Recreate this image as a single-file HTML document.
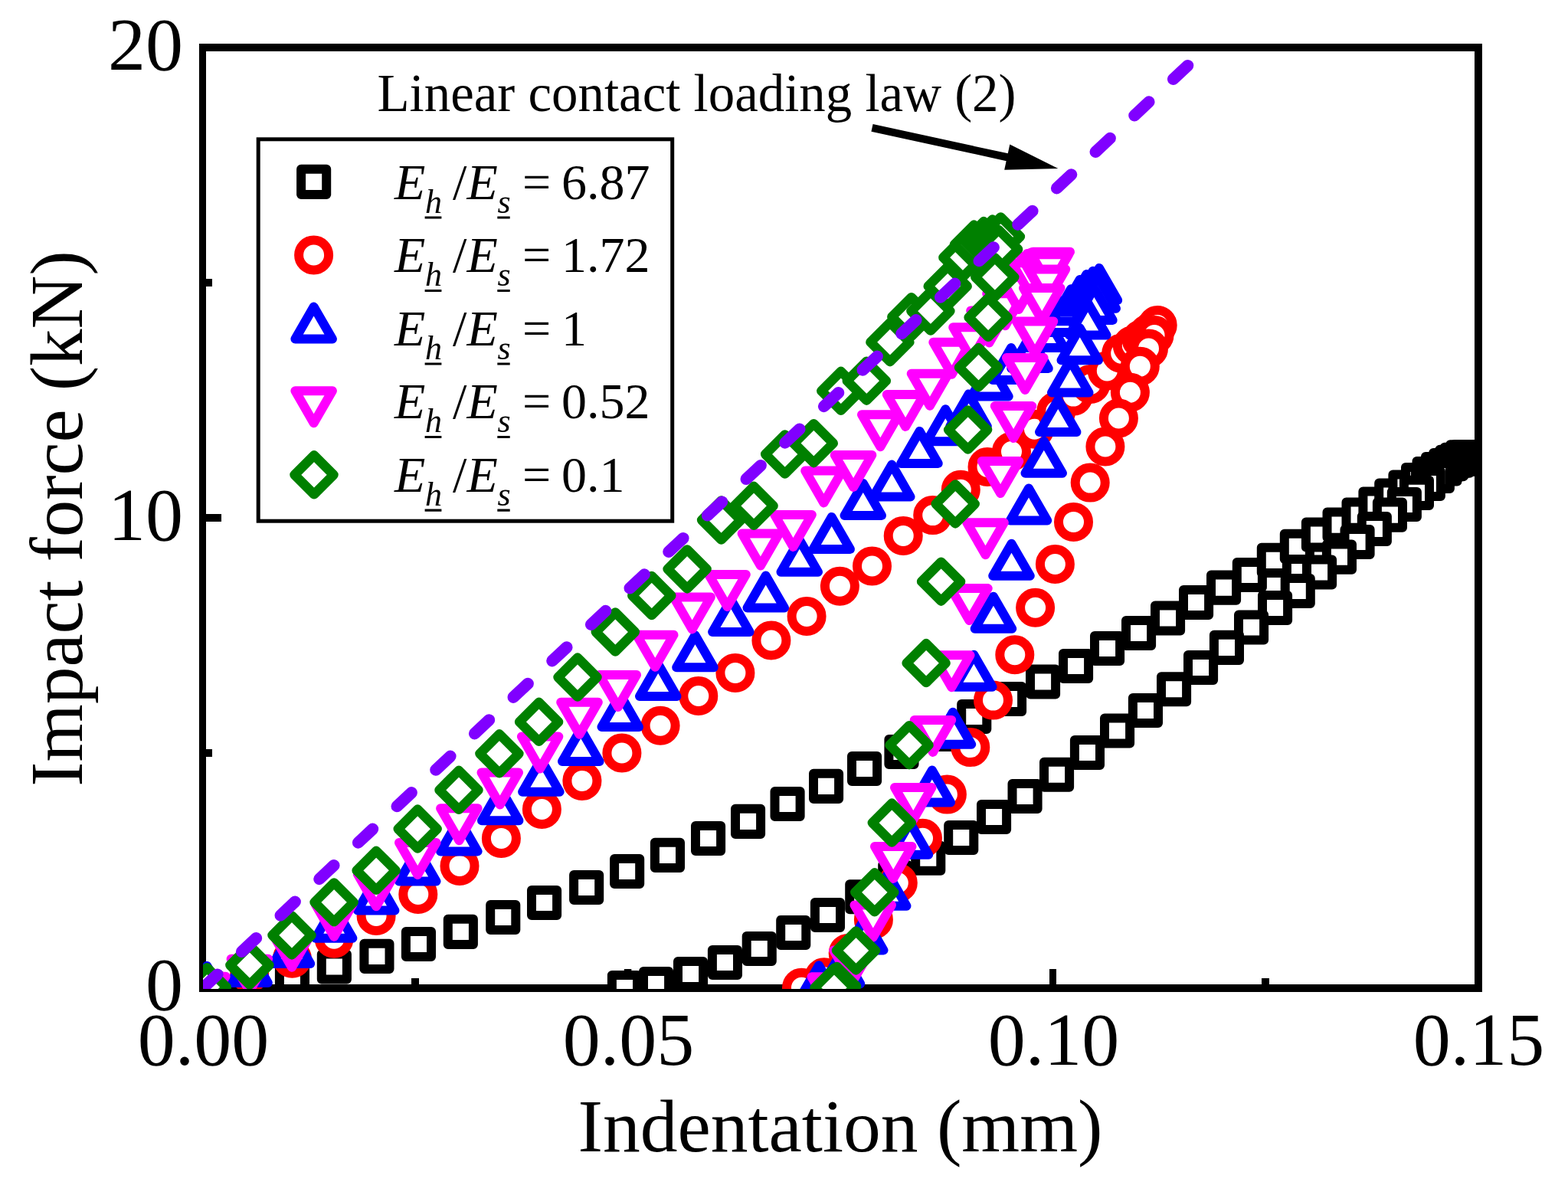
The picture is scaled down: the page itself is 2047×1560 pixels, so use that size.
<!DOCTYPE html>
<html lang="en"><head><meta charset="utf-8"><title>Impact force vs indentation</title>
<style>
html,body{margin:0;padding:0;background:#fff;}
body{width:2047px;height:1560px;overflow:hidden;}
svg{display:block;}
text{font-family:"Liberation Serif",serif;fill:#000;}
.tk{font-size:98px;}
.ax{font-size:97.5px;}
.lg{font-size:66px;}
.lg .i{font-style:italic;}
.lg{white-space:pre;}
.lg .s{font-style:italic;font-size:44px;}
.an{font-size:68.9px;}
.m{fill:#fff;stroke-width:12.0;stroke-linejoin:round;}
</style></head><body>
<svg width="2047" height="1560" viewBox="0 0 2047 1560">
<rect x="0" y="0" width="2047" height="1560" fill="#fff"/>
<defs><clipPath id="pc"><rect x="265" y="61" width="1665" height="1230"/></clipPath></defs>

<path fill="#000" fill-rule="evenodd" d="M259.94 56.98H1934.94V1294.97H259.94ZM269 66.95V1285H1924.97V66.95Z"/>
<path d="M268.50 671.00H289.00V681.00H268.50ZM268.50 363.90H277.00V373.90H268.50ZM268.50 978.10H277.00V988.10H268.50ZM814.85 1265.00H824.35V1285.50H814.85ZM1370.00 1265.00H1379.00V1285.50H1370.00ZM537.00 1277.00H547.00V1285.50H537.00ZM1092.00 1277.00H1102.00V1285.50H1092.00ZM1647.00 1277.00H1657.00V1285.50H1647.00Z" fill="#000"/>
<g clip-path="url(#pc)">
<g class="m" stroke="#000000">
<rect x="253.8" y="1272.8" width="33.1" height="33.1"/><rect x="309.4" y="1266.5" width="33.1" height="33.1"/><rect x="364.9" y="1257.9" width="33.1" height="33.1"/><rect x="419.8" y="1245.5" width="33.1" height="33.1"/><rect x="475.4" y="1231.8" width="33.1" height="33.1"/><rect x="529.9" y="1216.0" width="33.1" height="33.1"/><rect x="584.8" y="1199.8" width="33.1" height="33.1"/><rect x="640.2" y="1181.0" width="33.1" height="33.1"/><rect x="694.0" y="1162.0" width="33.1" height="33.1"/><rect x="749.1" y="1141.9" width="33.1" height="33.1"/><rect x="802.1" y="1120.9" width="33.1" height="33.1"/><rect x="854.9" y="1099.8" width="33.1" height="33.1"/><rect x="908.0" y="1077.9" width="33.1" height="33.1"/><rect x="960.0" y="1055.8" width="33.1" height="33.1"/><rect x="1011.5" y="1032.9" width="33.1" height="33.1"/><rect x="1062.0" y="1009.8" width="33.1" height="33.1"/><rect x="1112.0" y="986.9" width="33.1" height="33.1"/><rect x="1160.4" y="965.0" width="33.1" height="33.1"/><rect x="1208.2" y="941.9" width="33.1" height="33.1"/><rect x="1255.2" y="918.9" width="33.1" height="33.1"/><rect x="1301.0" y="896.0" width="33.1" height="33.1"/><rect x="1345.0" y="873.5" width="33.1" height="33.1"/><rect x="1388.0" y="853.0" width="33.1" height="33.1"/><rect x="1429.0" y="829.9" width="33.1" height="33.1"/><rect x="1470.0" y="810.0" width="33.1" height="33.1"/><rect x="1508.0" y="790.4" width="33.1" height="33.1"/><rect x="1545.0" y="769.9" width="33.1" height="33.1"/><rect x="1581.0" y="750.6" width="33.1" height="33.1"/><rect x="1614.8" y="733.9" width="33.1" height="33.1"/><rect x="1646.8" y="714.8" width="33.1" height="33.1"/><rect x="1676.8" y="696.8" width="33.1" height="33.1"/><rect x="1704.9" y="681.5" width="33.1" height="33.1"/><rect x="1732.5" y="668.6" width="33.1" height="33.1"/><rect x="1757.5" y="655.6" width="33.1" height="33.1"/><rect x="1779.4" y="641.6" width="33.1" height="33.1"/><rect x="1800.2" y="630.5" width="33.1" height="33.1"/><rect x="1818.4" y="619.6" width="33.1" height="33.1"/><rect x="1835.0" y="609.9" width="33.1" height="33.1"/><rect x="1849.5" y="602.1" width="33.1" height="33.1"/><rect x="1861.0" y="595.9" width="33.1" height="33.1"/><rect x="1871.2" y="591.1" width="33.1" height="33.1"/><rect x="1879.5" y="586.8" width="33.1" height="33.1"/><rect x="1885.7" y="584.6" width="33.1" height="33.1"/><rect x="1893.2" y="580.2" width="33.1" height="33.1"/><rect x="1899.0" y="580.1" width="33.1" height="33.1"/><rect x="1903.5" y="580.0" width="33.1" height="33.1"/><rect x="1907.0" y="580.0" width="33.1" height="33.1"/><rect x="1909.5" y="580.0" width="33.1" height="33.1"/><rect x="1911.0" y="580.0" width="33.1" height="33.1"/><rect x="1910.5" y="580.5" width="33.1" height="33.1"/><rect x="1908.0" y="581.0" width="33.1" height="33.1"/><rect x="1904.0" y="581.5" width="33.1" height="33.1"/><rect x="1898.5" y="582.0" width="33.1" height="33.1"/><rect x="1892.5" y="582.7" width="33.1" height="33.1"/><rect x="1885.8" y="583.8" width="33.1" height="33.1"/><rect x="1877.5" y="589.2" width="33.1" height="33.1"/><rect x="1869.4" y="595.4" width="33.1" height="33.1"/><rect x="1859.8" y="605.0" width="33.1" height="33.1"/><rect x="1847.8" y="614.9" width="33.1" height="33.1"/><rect x="1832.9" y="626.8" width="33.1" height="33.1"/><rect x="1816.8" y="641.9" width="33.1" height="33.1"/><rect x="1797.9" y="655.6" width="33.1" height="33.1"/><rect x="1777.8" y="674.0" width="33.1" height="33.1"/><rect x="1755.5" y="690.9" width="33.1" height="33.1"/><rect x="1731.9" y="710.6" width="33.1" height="33.1"/><rect x="1706.0" y="730.4" width="33.1" height="33.1"/><rect x="1677.7" y="754.9" width="33.1" height="33.1"/><rect x="1648.0" y="777.0" width="33.1" height="33.1"/><rect x="1617.0" y="802.4" width="33.1" height="33.1"/><rect x="1584.9" y="828.8" width="33.1" height="33.1"/><rect x="1551.0" y="855.0" width="33.1" height="33.1"/><rect x="1516.0" y="883.2" width="33.1" height="33.1"/><rect x="1478.9" y="910.9" width="33.1" height="33.1"/><rect x="1442.0" y="937.5" width="33.1" height="33.1"/><rect x="1402.9" y="966.0" width="33.1" height="33.1"/><rect x="1363.0" y="994.7" width="33.1" height="33.1"/><rect x="1321.5" y="1023.0" width="33.1" height="33.1"/><rect x="1281.0" y="1050.0" width="33.1" height="33.1"/><rect x="1238.2" y="1077.0" width="33.1" height="33.1"/><rect x="1195.2" y="1103.7" width="33.1" height="33.1"/><rect x="1152.2" y="1129.0" width="33.1" height="33.1"/><rect x="1109.2" y="1154.2" width="33.1" height="33.1"/><rect x="1063.9" y="1178.0" width="33.1" height="33.1"/><rect x="1019.2" y="1200.9" width="33.1" height="33.1"/><rect x="974.7" y="1222.0" width="33.1" height="33.1"/><rect x="929.9" y="1240.0" width="33.1" height="33.1"/><rect x="885.0" y="1254.9" width="33.1" height="33.1"/><rect x="840.0" y="1268.0" width="33.1" height="33.1"/><rect x="798.9" y="1272.9" width="33.1" height="33.1"/>
</g>
<g class="m" stroke="#ff0000">
<circle cx="270.3" cy="1289.0" r="19.5"/><circle cx="325.7" cy="1270.5" r="19.5"/><circle cx="381.4" cy="1251.2" r="19.5"/><circle cx="436.1" cy="1225.2" r="19.5"/><circle cx="491.1" cy="1195.5" r="19.5"/><circle cx="545.8" cy="1167.4" r="19.5"/><circle cx="600.0" cy="1130.4" r="19.5"/><circle cx="654.4" cy="1094.4" r="19.5"/><circle cx="707.4" cy="1056.5" r="19.5"/><circle cx="759.9" cy="1019.4" r="19.5"/><circle cx="811.9" cy="983.0" r="19.5"/><circle cx="862.1" cy="947.2" r="19.5"/><circle cx="911.8" cy="908.5" r="19.5"/><circle cx="959.9" cy="878.4" r="19.5"/><circle cx="1006.9" cy="836.0" r="19.5"/><circle cx="1053.1" cy="804.5" r="19.5"/><circle cx="1096.4" cy="765.2" r="19.5"/><circle cx="1138.5" cy="739.0" r="19.5"/><circle cx="1179.2" cy="699.4" r="19.5"/><circle cx="1217.7" cy="672.6" r="19.5"/><circle cx="1254.3" cy="639.3" r="19.5"/><circle cx="1289.0" cy="609.5" r="19.5"/><circle cx="1320.5" cy="589.5" r="19.5"/><circle cx="1350.5" cy="560.2" r="19.5"/><circle cx="1378.8" cy="536.7" r="19.5"/><circle cx="1401.3" cy="517.1" r="19.5"/><circle cx="1423.8" cy="501.5" r="19.5"/><circle cx="1445.3" cy="484.0" r="19.5"/><circle cx="1463.7" cy="461.3" r="19.5"/><circle cx="1478.3" cy="451.1" r="19.5"/><circle cx="1490.0" cy="443.0" r="19.5"/><circle cx="1499.0" cy="436.0" r="19.5"/><circle cx="1505.5" cy="431.0" r="19.5"/><circle cx="1509.5" cy="427.0" r="19.5"/><circle cx="1511.2" cy="424.6" r="19.5"/><circle cx="1507.0" cy="437.5" r="19.5"/><circle cx="1499.5" cy="455.0" r="19.5"/><circle cx="1488.3" cy="478.3" r="19.5"/><circle cx="1475.4" cy="512.2" r="19.5"/><circle cx="1460.4" cy="546.0" r="19.5"/><circle cx="1442.9" cy="583.0" r="19.5"/><circle cx="1423.2" cy="630.1" r="19.5"/><circle cx="1401.5" cy="681.4" r="19.5"/><circle cx="1377.4" cy="736.5" r="19.5"/><circle cx="1351.6" cy="793.2" r="19.5"/><circle cx="1324.8" cy="854.8" r="19.5"/><circle cx="1296.5" cy="914.1" r="19.5"/><circle cx="1266.8" cy="975.6" r="19.5"/><circle cx="1236.4" cy="1037.1" r="19.5"/><circle cx="1204.5" cy="1094.2" r="19.5"/><circle cx="1172.3" cy="1152.5" r="19.5"/><circle cx="1140.4" cy="1200.4" r="19.5"/><circle cx="1107.2" cy="1244.4" r="19.5"/><circle cx="1075.9" cy="1275.7" r="19.5"/><circle cx="1046.5" cy="1289.3" r="19.5"/>
</g>
<g class="m" stroke="#0000ff">
<path d="M270.3 1260.9L294.6 1302.9L246.1 1302.9Z"/><path d="M325.5 1241.0L349.8 1283.0L301.2 1283.0Z"/><path d="M381.0 1216.0L405.2 1258.0L356.8 1258.0Z"/><path d="M436.1 1182.8L460.4 1224.8L411.9 1224.8Z"/><path d="M491.1 1146.6L515.4 1188.6L466.9 1188.6Z"/><path d="M545.2 1108.5L569.5 1150.5L521.0 1150.5Z"/><path d="M599.4 1069.4L623.6 1111.4L575.1 1111.4Z"/><path d="M653.2 1029.3L677.5 1071.3L629.0 1071.3Z"/><path d="M706.4 991.7L730.6 1033.7L682.1 1033.7Z"/><path d="M758.3 952.1L782.5 994.1L734.0 994.1Z"/><path d="M809.7 907.1L834.0 949.1L785.5 949.1Z"/><path d="M859.2 867.0L883.5 909.0L835.0 909.0Z"/><path d="M907.5 829.3L931.8 871.3L883.2 871.3Z"/><path d="M954.4 783.0L978.6 825.0L930.1 825.0Z"/><path d="M999.7 751.5L1024.0 793.5L975.5 793.5Z"/><path d="M1043.7 704.8L1068.0 746.8L1019.5 746.8Z"/><path d="M1085.7 674.9L1110.0 716.9L1061.5 716.9Z"/><path d="M1126.8 630.9L1151.0 672.9L1102.5 672.9Z"/><path d="M1164.3 606.6L1188.5 648.6L1140.0 648.6Z"/><path d="M1200.5 562.9L1224.8 604.9L1176.2 604.9Z"/><path d="M1234.3 534.3L1258.5 576.3L1210.0 576.3Z"/><path d="M1264.6 514.4L1288.8 556.4L1240.3 556.4Z"/><path d="M1292.4 475.5L1316.7 517.5L1268.2 517.5Z"/><path d="M1320.0 454.0L1344.2 496.0L1295.8 496.0Z"/><path d="M1344.5 438.9L1368.8 480.9L1320.2 480.9Z"/><path d="M1365.0 412.0L1389.2 454.0L1340.8 454.0Z"/><path d="M1383.0 392.0L1407.2 434.0L1358.8 434.0Z"/><path d="M1398.1 377.2L1422.3 419.2L1373.8 419.2Z"/><path d="M1409.6 365.1L1433.8 407.1L1385.3 407.1Z"/><path d="M1418.4 358.1L1442.7 400.1L1394.2 400.1Z"/><path d="M1426.7 353.7L1451.0 395.7L1402.5 395.7Z"/><path d="M1435.0 349.9L1459.2 391.9L1410.8 391.9Z"/><path d="M1432.8 360.7L1457.0 402.7L1408.5 402.7Z"/><path d="M1428.4 375.9L1452.7 417.9L1404.2 417.9Z"/><path d="M1420.2 395.5L1444.5 437.5L1396.0 437.5Z"/><path d="M1409.7 428.3L1434.0 470.3L1385.5 470.3Z"/><path d="M1397.2 470.6L1421.5 512.6L1373.0 512.6Z"/><path d="M1381.3 522.0L1405.5 564.0L1357.0 564.0Z"/><path d="M1362.8 575.8L1387.0 617.8L1338.5 617.8Z"/><path d="M1343.0 637.5L1367.2 679.5L1318.8 679.5Z"/><path d="M1320.5 709.7L1344.8 751.7L1296.2 751.7Z"/><path d="M1296.9 778.7L1321.2 820.7L1272.7 820.7Z"/><path d="M1271.3 854.8L1295.5 896.8L1247.0 896.8Z"/><path d="M1243.9 929.7L1268.2 971.7L1219.7 971.7Z"/><path d="M1216.8 1005.5L1241.0 1047.5L1192.5 1047.5Z"/><path d="M1187.9 1073.7L1212.2 1115.7L1163.7 1115.7Z"/><path d="M1159.2 1140.7L1183.5 1182.7L1135.0 1182.7Z"/><path d="M1129.2 1198.4L1153.5 1240.4L1105.0 1240.4Z"/><path d="M1098.9 1242.2L1123.2 1284.2L1074.7 1284.2Z"/><path d="M1069.0 1260.2L1093.2 1302.2L1044.8 1302.2Z"/>
</g>
<g class="m" stroke="#ff00ff">
<path d="M270.3 1316.8L294.6 1274.8L246.1 1274.8Z"/><path d="M325.9 1293.8L350.1 1251.8L301.6 1251.8Z"/><path d="M381.0 1262.8L405.2 1220.8L356.8 1220.8Z"/><path d="M436.1 1222.7L460.4 1180.7L411.9 1180.7Z"/><path d="M491.1 1183.2L515.4 1141.2L466.9 1141.2Z"/><path d="M545.2 1142.0L569.5 1100.0L521.0 1100.0Z"/><path d="M599.4 1097.2L623.6 1055.2L575.1 1055.2Z"/><path d="M652.7 1050.5L677.0 1008.5L628.5 1008.5Z"/><path d="M705.1 1003.6L729.4 961.6L680.9 961.6Z"/><path d="M756.5 958.8L780.8 916.8L732.2 916.8Z"/><path d="M806.8 923.0L831.0 881.0L782.5 881.0Z"/><path d="M855.3 870.8L879.5 828.8L831.0 828.8Z"/><path d="M903.6 821.4L927.9 779.4L879.4 779.4Z"/><path d="M949.5 792.0L973.8 750.0L925.2 750.0Z"/><path d="M992.9 738.5L1017.1 696.5L968.6 696.5Z"/><path d="M1035.5 713.9L1059.8 671.9L1011.2 671.9Z"/><path d="M1075.4 656.4L1099.7 614.4L1051.2 614.4Z"/><path d="M1114.1 635.9L1138.3 593.9L1089.8 593.9Z"/><path d="M1149.3 583.3L1173.5 541.3L1125.0 541.3Z"/><path d="M1182.1 556.9L1206.3 514.9L1157.8 514.9Z"/><path d="M1213.9 529.7L1238.2 487.7L1189.7 487.7Z"/><path d="M1242.6 488.8L1266.8 446.8L1218.3 446.8Z"/><path d="M1268.4 469.2L1292.7 427.2L1244.2 427.2Z"/><path d="M1291.4 447.5L1315.7 405.5L1267.2 405.5Z"/><path d="M1312.4 425.2L1336.7 383.2L1288.2 383.2Z"/><path d="M1330.0 404.0L1354.2 362.0L1305.8 362.0Z"/><path d="M1345.4 385.3L1369.7 343.3L1321.2 343.3Z"/><path d="M1357.0 377.0L1381.2 335.0L1332.8 335.0Z"/><path d="M1365.0 373.0L1389.2 331.0L1340.8 331.0Z"/><path d="M1370.0 371.5L1394.2 329.5L1345.8 329.5Z"/><path d="M1372.7 370.8L1397.0 328.8L1348.5 328.8Z"/><path d="M1370.8 374.2L1395.0 332.2L1346.5 332.2Z"/><path d="M1367.1 393.5L1391.3 351.5L1342.8 351.5Z"/><path d="M1360.3 417.9L1384.5 375.9L1336.0 375.9Z"/><path d="M1351.1 461.4L1375.3 419.4L1326.8 419.4Z"/><path d="M1338.2 509.0L1362.5 467.0L1314.0 467.0Z"/><path d="M1323.1 572.1L1347.3 530.1L1298.8 530.1Z"/><path d="M1306.1 644.1L1330.3 602.1L1281.8 602.1Z"/><path d="M1286.5 724.2L1310.8 682.2L1262.2 682.2Z"/><path d="M1265.4 810.1L1289.7 768.1L1241.2 768.1Z"/><path d="M1242.3 897.3L1266.5 855.3L1218.0 855.3Z"/><path d="M1217.9 981.9L1242.2 939.9L1193.7 939.9Z"/><path d="M1192.3 1070.1L1216.5 1028.1L1168.0 1028.1Z"/><path d="M1166.2 1146.9L1190.5 1104.9L1142.0 1104.9Z"/><path d="M1139.8 1223.5L1164.0 1181.5L1115.5 1181.5Z"/><path d="M1112.4 1282.5L1136.7 1240.5L1088.2 1240.5Z"/><path d="M1083.7 1317.3L1108.0 1275.3L1059.5 1275.3Z"/>
</g>
<g class="m" stroke="#008000" style="stroke-width:12.5">
<path d="M270.3 1263.2L295.8 1288.7L270.3 1314.2L244.8 1288.7Z"/><path d="M325.9 1234.5L351.4 1260.0L325.9 1285.5L300.4 1260.0Z"/><path d="M381.0 1195.4L406.5 1220.9L381.0 1246.4L355.5 1220.9Z"/><path d="M436.1 1152.4L461.6 1177.9L436.1 1203.4L410.6 1177.9Z"/><path d="M491.1 1110.8L516.6 1136.3L491.1 1161.8L465.6 1136.3Z"/><path d="M545.2 1056.6L570.7 1082.1L545.2 1107.6L519.7 1082.1Z"/><path d="M599.0 1005.8L624.5 1031.3L599.0 1056.8L573.5 1031.3Z"/><path d="M651.9 958.3L677.4 983.8L651.9 1009.3L626.4 983.8Z"/><path d="M703.6 916.8L729.1 942.3L703.6 967.8L678.1 942.3Z"/><path d="M754.0 858.6L779.5 884.1L754.0 909.6L728.5 884.1Z"/><path d="M803.3 799.5L828.8 825.0L803.3 850.5L777.8 825.0Z"/><path d="M850.8 752.0L876.3 777.5L850.8 803.0L825.3 777.5Z"/><path d="M897.1 717.4L922.6 742.9L897.1 768.4L871.6 742.9Z"/><path d="M941.6 653.5L967.1 679.0L941.6 704.5L916.1 679.0Z"/><path d="M984.1 634.8L1009.6 660.3L984.1 685.8L958.6 660.3Z"/><path d="M1024.7 567.5L1050.2 593.0L1024.7 618.5L999.2 593.0Z"/><path d="M1062.3 553.2L1087.8 578.7L1062.3 604.2L1036.8 578.7Z"/><path d="M1097.8 484.8L1123.3 510.3L1097.8 535.8L1072.3 510.3Z"/><path d="M1131.3 471.7L1156.8 497.2L1131.3 522.7L1105.8 497.2Z"/><path d="M1161.9 421.2L1187.4 446.7L1161.9 472.2L1136.4 446.7Z"/><path d="M1189.8 388.2L1215.3 413.7L1189.8 439.2L1164.3 413.7Z"/><path d="M1214.9 380.6L1240.4 406.1L1214.9 431.6L1189.4 406.1Z"/><path d="M1237.2 348.2L1262.7 373.7L1237.2 399.2L1211.7 373.7Z"/><path d="M1256.9 310.7L1282.4 336.2L1256.9 361.7L1231.4 336.2Z"/><path d="M1271.5 293.6L1297.0 319.1L1271.5 344.6L1246.0 319.1Z"/><path d="M1284.2 289.1L1309.7 314.6L1284.2 340.1L1258.7 314.6Z"/><path d="M1295.6 286.6L1321.1 312.1L1295.6 337.6L1270.1 312.1Z"/><path d="M1306.4 283.4L1331.9 308.9L1306.4 334.4L1280.9 308.9Z"/><path d="M1303.6 299.9L1329.1 325.4L1303.6 350.9L1278.1 325.4Z"/><path d="M1298.8 336.3L1324.3 361.8L1298.8 387.3L1273.3 361.8Z"/><path d="M1290.1 388.8L1315.6 414.3L1290.1 439.8L1264.6 414.3Z"/><path d="M1277.5 454.1L1303.0 479.6L1277.5 505.1L1252.0 479.6Z"/><path d="M1263.6 535.6L1289.1 561.1L1263.6 586.6L1238.1 561.1Z"/><path d="M1247.2 632.4L1272.7 657.9L1247.2 683.4L1221.7 657.9Z"/><path d="M1228.6 733.7L1254.1 759.2L1228.6 784.7L1203.1 759.2Z"/><path d="M1209.1 840.1L1234.6 865.6L1209.1 891.1L1183.6 865.6Z"/><path d="M1187.0 947.2L1212.5 972.7L1187.0 998.2L1161.5 972.7Z"/><path d="M1164.3 1048.6L1189.8 1074.1L1164.3 1099.6L1138.8 1074.1Z"/><path d="M1141.8 1139.3L1167.3 1164.8L1141.8 1190.3L1116.3 1164.8Z"/><path d="M1117.5 1215.4L1143.0 1240.9L1117.5 1266.4L1092.0 1240.9Z"/><path d="M1092.6 1261.9L1118.1 1287.4L1092.6 1312.9L1067.1 1287.4Z"/><path d="M1089.0 1263.8L1114.5 1289.3L1089.0 1314.8L1063.5 1289.3Z"/>
</g>
<g stroke="#8000ff" stroke-width="15.4" stroke-linecap="round">
<line x1="264.9" y1="1289.9" x2="283.9" y2="1272.1"/>
<line x1="315.6" y1="1242.4" x2="334.5" y2="1224.7"/>
<line x1="366.2" y1="1195.0" x2="385.2" y2="1177.2"/>
<line x1="416.9" y1="1147.5" x2="435.9" y2="1129.7"/>
<line x1="467.6" y1="1100.0" x2="486.5" y2="1082.3"/>
<line x1="518.2" y1="1052.6" x2="537.2" y2="1034.8"/>
<line x1="568.9" y1="1005.1" x2="587.9" y2="987.3"/>
<line x1="619.6" y1="957.7" x2="638.5" y2="939.9"/>
<line x1="670.2" y1="910.2" x2="689.2" y2="892.4"/>
<line x1="720.9" y1="862.7" x2="739.9" y2="845.0"/>
<line x1="771.6" y1="815.3" x2="790.6" y2="797.5"/>
<line x1="822.2" y1="767.8" x2="841.2" y2="750.0"/>
<line x1="872.9" y1="720.3" x2="891.9" y2="702.6"/>
<line x1="923.6" y1="672.9" x2="942.6" y2="655.1"/>
<line x1="974.2" y1="625.4" x2="993.2" y2="607.6"/>
<line x1="1024.9" y1="578.0" x2="1043.9" y2="560.2"/>
<line x1="1075.6" y1="530.5" x2="1094.6" y2="512.7"/>
<line x1="1126.2" y1="483.0" x2="1145.2" y2="465.3"/>
<line x1="1176.9" y1="435.6" x2="1195.9" y2="417.8"/>
<line x1="1227.6" y1="388.1" x2="1246.6" y2="370.3"/>
<line x1="1278.2" y1="340.6" x2="1297.2" y2="322.9"/>
<line x1="1328.9" y1="293.2" x2="1347.9" y2="275.4"/>
<line x1="1379.6" y1="245.7" x2="1398.6" y2="227.9"/>
<line x1="1430.2" y1="198.3" x2="1449.2" y2="180.5"/>
<line x1="1480.9" y1="150.8" x2="1499.9" y2="133.0"/>
<line x1="1531.6" y1="103.3" x2="1550.6" y2="85.6"/>
</g>
</g>
<g class="tk">
<text x="239" y="91" text-anchor="end">20</text>
<text x="239" y="704.5" text-anchor="end">10</text>
<text x="239" y="1318" text-anchor="end">0</text>
<text x="265.5" y="1390" text-anchor="middle">0.00</text>
<text x="820.5" y="1390" text-anchor="middle">0.05</text>
<text x="1375.6" y="1390" text-anchor="middle">0.10</text>
<text x="1930.6" y="1390" text-anchor="middle">0.15</text>
</g>
<text class="ax" x="1097" y="1503.2" text-anchor="middle">Indentation (mm)</text>
<text class="ax" style="font-size:96.9px" transform="translate(107 677) rotate(-90)" text-anchor="middle">Impact force (kN)</text>
<text class="an" x="492.5" y="144.5">Linear contact loading law (2)</text>
<path d="M1138.5 166.9L1316 205.5" stroke="#000" stroke-width="10" fill="none"/>
<path d="M1381.3 220L1318.3 188.6L1311.2 221.8Z" fill="#000"/>
<rect x="337.2" y="181.8" width="540.5" height="498.4" fill="#fff" stroke="#000" stroke-width="5"/>
<g class="m" stroke="#000000"><rect x="393.1" y="220.8" width="33.1" height="33.1"/></g>
<text class="lg" y="259.7"><tspan class="i" x="515">E</tspan><tspan class="s" x="555" y="277.7">h </tspan><tspan x="591" y="259.7">/</tspan><tspan class="i" x="609.5">E</tspan><tspan class="s" x="649.5" y="277.7">s </tspan><tspan x="682" y="259.7">= </tspan><tspan x="733">6.87</tspan></text><path d="M554.6 282.4h21.8v3.1h-21.8zM649.3 282.4h16.4v3.1h-16.4z"/>
<g class="m" stroke="#ff0000"><circle cx="409.6" cy="333.0" r="19.5"/></g>
<text class="lg" y="355.2"><tspan class="i" x="515">E</tspan><tspan class="s" x="555" y="373.2">h </tspan><tspan x="591" y="355.2">/</tspan><tspan class="i" x="609.5">E</tspan><tspan class="s" x="649.5" y="373.2">s </tspan><tspan x="682" y="355.2">= </tspan><tspan x="733">1.72</tspan></text><path d="M554.6 377.9h21.8v3.1h-21.8zM649.3 377.9h16.4v3.1h-16.4z"/>
<g class="m" stroke="#0000ff"><path d="M409.6 400.6L433.9 442.6L385.4 442.6Z"/></g>
<text class="lg" y="450.8"><tspan class="i" x="515">E</tspan><tspan class="s" x="555" y="468.8">h </tspan><tspan x="591" y="450.8">/</tspan><tspan class="i" x="609.5">E</tspan><tspan class="s" x="649.5" y="468.8">s </tspan><tspan x="682" y="450.8">= </tspan><tspan x="733">1</tspan></text><path d="M554.6 473.5h21.8v3.1h-21.8zM649.3 473.5h16.4v3.1h-16.4z"/>
<g class="m" stroke="#ff00ff"><path d="M409.6 552.2L433.9 510.2L385.4 510.2Z"/></g>
<text class="lg" y="546.3"><tspan class="i" x="515">E</tspan><tspan class="s" x="555" y="564.3">h </tspan><tspan x="591" y="546.3">/</tspan><tspan class="i" x="609.5">E</tspan><tspan class="s" x="649.5" y="564.3">s </tspan><tspan x="682" y="546.3">= </tspan><tspan x="733">0.52</tspan></text><path d="M554.6 569.0h21.8v3.1h-21.8zM649.3 569.0h16.4v3.1h-16.4z"/>
<g class="m" stroke="#008000" style="stroke-width:12.5"><path d="M410.0 594.3L435.5 619.8L410.0 645.3L384.5 619.8Z"/></g>
<text class="lg" y="641.9"><tspan class="i" x="515">E</tspan><tspan class="s" x="555" y="659.9">h </tspan><tspan x="591" y="641.9">/</tspan><tspan class="i" x="609.5">E</tspan><tspan class="s" x="649.5" y="659.9">s </tspan><tspan x="682" y="641.9">= </tspan><tspan x="733">0.1</tspan></text><path d="M554.6 664.6h21.8v3.1h-21.8zM649.3 664.6h16.4v3.1h-16.4z"/>
</svg></body></html>
